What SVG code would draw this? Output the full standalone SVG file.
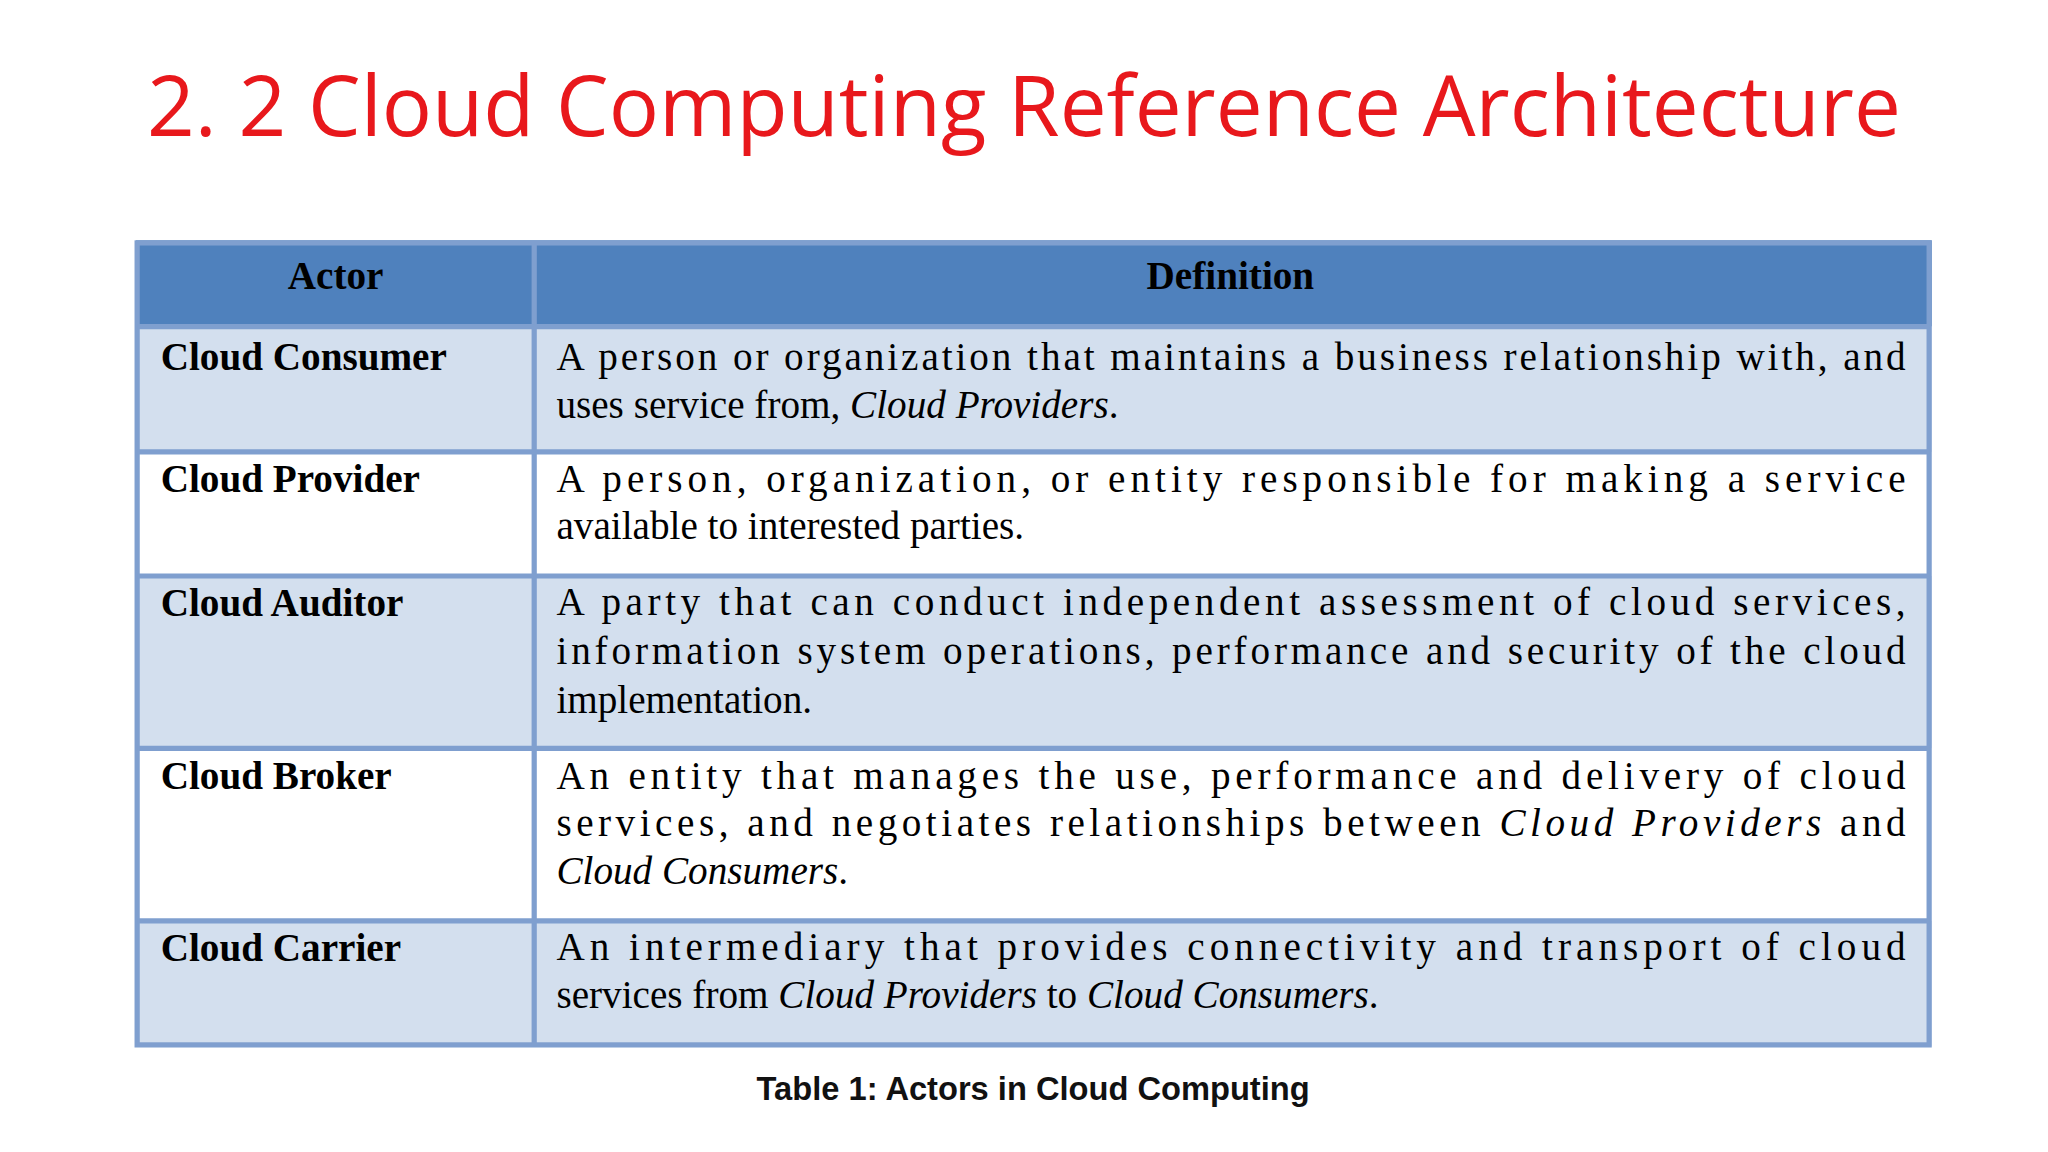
<svg xmlns="http://www.w3.org/2000/svg" width="2048" height="1152" viewBox="0 0 2048 1152">
<style>
.a{font-family:"Liberation Serif",serif;font-weight:bold;font-size:30px;fill:#000}
.d{font-family:"Liberation Serif",serif;font-size:30px;fill:#000}
.l{fill:#d3dfee}
.w{fill:#fff}
</style>
<rect width="2048" height="1152" fill="#fff"/>
<g transform="scale(1.30612)">
<g id="title"><text x="784" y="104" text-anchor="middle" font-family="Open Sans,Liberation Sans,sans-serif" font-size="64" fill="#e8181c">2. 2 Cloud Computing Reference Architecture</text></g>
<g id="table">
<rect x="104" y="184" width="1375" height="66" fill="#4f81bd"/>
<rect x="104" y="250" width="1375" height="96" class="l"/>
<rect x="104" y="346" width="1375" height="95" class="w"/>
<rect x="104" y="441" width="1375" height="132" class="l"/>
<rect x="104" y="573" width="1375" height="132" class="w"/>
<rect x="104" y="705" width="1375" height="96" class="l"/>
<g stroke="#7f9fcf" stroke-width="4" fill="none">
<rect x="105" y="186" width="1372" height="614"/>
<line x1="409" y1="186" x2="409" y2="800"/>
<line x1="105" y1="250" x2="1477" y2="250"/>
<line x1="105" y1="346" x2="1477" y2="346"/>
<line x1="105" y1="441" x2="1477" y2="441"/>
<line x1="105" y1="573" x2="1477" y2="573"/>
<line x1="105" y1="705" x2="1477" y2="705"/>
</g>
<text class="a" x="257" y="221" text-anchor="middle">Actor</text>
<text class="a" x="942" y="221" text-anchor="middle">Definition</text>
</g>
<g id="row1">
<text class="a" x="123" y="283">Cloud Consumer</text>
<text class="d" x="426" y="283" textLength="1033" lengthAdjust="spacing">A person or organization that maintains a business relationship with, and</text>
<text class="d" x="426" y="320">uses service from, <tspan font-style="italic">Cloud Providers</tspan>.</text>
</g>
<g id="row2">
<text class="a" x="123" y="377">Cloud Provider</text>
<text class="d" x="426" y="377" textLength="1033" lengthAdjust="spacing">A person, organization, or entity responsible for making a service</text>
<text class="d" x="426" y="413">available to interested parties.</text>
</g>
<g id="row3">
<text class="a" x="123" y="472">Cloud Auditor</text>
<text class="d" x="426" y="471" textLength="1033" lengthAdjust="spacing">A party that can conduct independent assessment of cloud services,</text>
<text class="d" x="426" y="508" textLength="1033" lengthAdjust="spacing">information system operations, performance and security of the cloud</text>
<text class="d" x="426" y="546">implementation.</text>
</g>
<g id="row4">
<text class="a" x="123" y="604">Cloud Broker</text>
<text class="d" x="426" y="604" textLength="1033" lengthAdjust="spacing">An entity that manages the use, performance and delivery of cloud</text>
<text class="d" x="426" y="640" textLength="1033" lengthAdjust="spacing">services, and negotiates relationships between <tspan font-style="italic">Cloud Providers</tspan> and</text>
<text class="d" x="426" y="677" font-style="italic">Cloud Consumers<tspan font-style="normal">.</tspan></text>
</g>
<g id="row5">
<text class="a" x="123" y="736">Cloud Carrier</text>
<text class="d" x="426" y="735" textLength="1033" lengthAdjust="spacing">An intermediary that provides connectivity and transport of cloud</text>
<text class="d" x="426" y="772">services from <tspan font-style="italic">Cloud Providers</tspan> to <tspan font-style="italic">Cloud Consumers</tspan>.</text>
</g>
<g id="caption"><text x="791" y="842" text-anchor="middle" font-family="Liberation Sans,sans-serif" font-weight="bold" font-size="25" fill="#111">Table 1: Actors in Cloud Computing</text></g>
</g>
</svg>
